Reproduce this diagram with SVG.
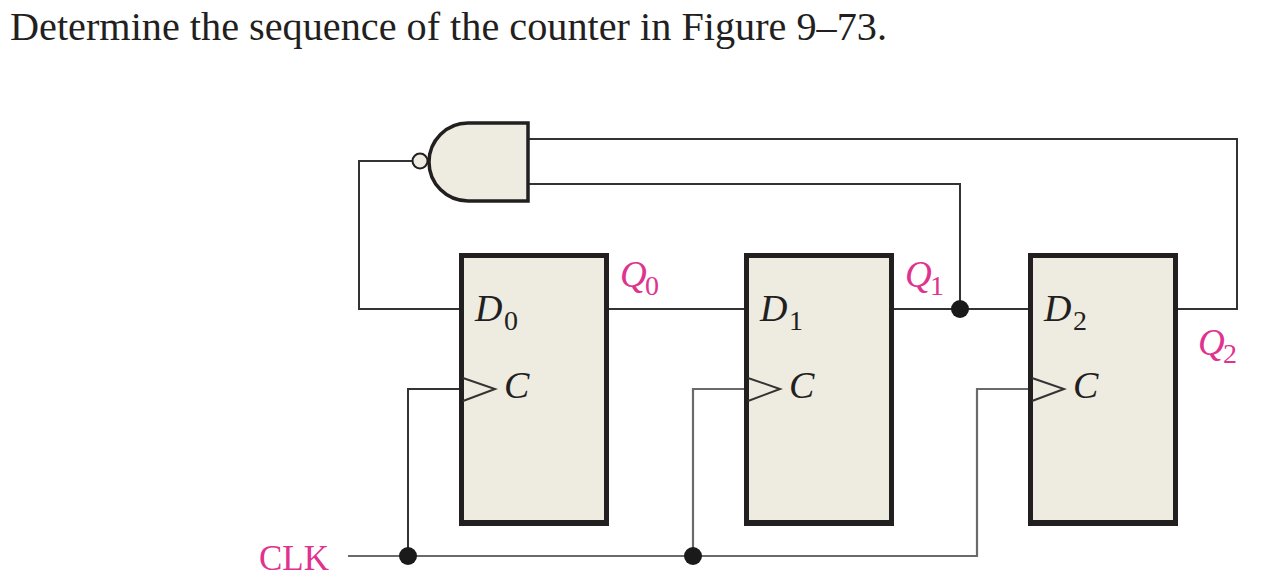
<svg xmlns="http://www.w3.org/2000/svg" width="1284" height="580" viewBox="0 0 1284 580">
<style>
.ff{fill:#EEEBE1;stroke:#231f20;stroke-width:5}
.gate{fill:#EEEBE1;stroke:#231f20;stroke-width:3.5}
.w{fill:none;stroke:#333;stroke-width:2}
.ck{fill:none;stroke:#6a6a6a;stroke-width:2.2}
.tri{fill:none;stroke:#333;stroke-width:2}
.dot{fill:#1a1a1a}
.lbl{font-family:"Liberation Serif","Times New Roman",serif;font-style:italic;font-size:38px;fill:#231f20}
.sub{font-family:"Liberation Serif","Times New Roman",serif;font-size:28px;fill:#231f20}
.mq{font-family:"Liberation Serif","Times New Roman",serif;font-style:italic;font-size:37px;fill:#E0338E}
.ms{font-family:"Liberation Serif","Times New Roman",serif;font-size:28px;fill:#E0338E}
.title{font-family:"Liberation Serif","Times New Roman",serif;font-size:40px;fill:#231f20}
</style>
<text class="title" x="10" y="40" textLength="877" lengthAdjust="spacingAndGlyphs">Determine the sequence of the counter in Figure 9–73.</text>
<g id="connectors">
<polyline class="w" points="412,161 359,161 359,309 459,309"/>
<polyline class="w" points="528,139 1237,139 1237,309 1178,309"/>
<polyline class="w" points="528,184 960,184 960,309"/>
<line class="w" x1="609" y1="309" x2="744" y2="309"/>
<line class="w" x1="894" y1="309" x2="1028" y2="309"/>
<polyline class="ck" points="348,556 977,556 977,389 1028,389"/>
<polyline class="w" points="408,556 408,389 459,389"/>
<polyline class="ck" points="693,556 693,389 744,389"/>
<circle class="dot" cx="960" cy="309" r="9"/>
<circle class="dot" cx="408" cy="556" r="9"/>
<circle class="dot" cx="693" cy="556" r="9"/>
</g>
<g id="gate">
<path class="gate" d="M528,123 H468 A39,39 0 0 0 468,201 H528 Z"/>
<circle cx="420" cy="161" r="7.5" fill="#EEEBE1" stroke="#231f20" stroke-width="2"/>
</g>
<g id="ff0">
<rect class="ff" x="461.5" y="255.5" width="145" height="268"/>
<line x1="459" y1="523" x2="609" y2="523" stroke="#231f20" stroke-width="6"/>
<polyline class="tri" points="463,378 495,389 463,401"/>
<text class="lbl" x="475" y="321">D</text><text class="sub" x="504" y="330">0</text>
<text class="lbl" x="504" y="398">C</text>
<text class="mq" x="620" y="287">Q</text><text class="ms" x="645" y="295">0</text>
</g>
<g id="ff1">
<rect class="ff" x="746.5" y="255.5" width="145" height="268"/>
<line x1="744" y1="523" x2="894" y2="523" stroke="#231f20" stroke-width="6"/>
<polyline class="tri" points="748,378 780,389 748,401"/>
<text class="lbl" x="760" y="321">D</text><text class="sub" x="789" y="330">1</text>
<text class="lbl" x="789" y="398">C</text>
<text class="mq" x="905" y="287">Q</text><text class="ms" x="930" y="295">1</text>
</g>
<g id="ff2">
<rect class="ff" x="1030.5" y="255.5" width="145" height="268"/>
<line x1="1028" y1="523" x2="1178" y2="523" stroke="#231f20" stroke-width="6"/>
<polyline class="tri" points="1032,378 1064,389 1032,401"/>
<text class="lbl" x="1044" y="321">D</text><text class="sub" x="1073" y="330">2</text>
<text class="lbl" x="1073" y="398">C</text>
<text class="mq" x="1198" y="355">Q</text><text class="ms" x="1223" y="363">2</text>
</g>
<text x="259" y="570" font-family="Liberation Serif, Times New Roman, serif" font-size="35" fill="#E0338E">CLK</text>
</svg>
